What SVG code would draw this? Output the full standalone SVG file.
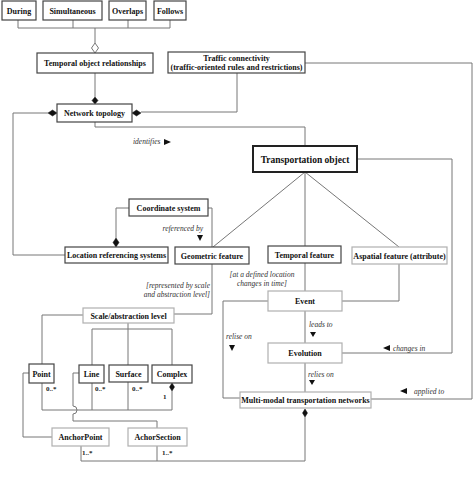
<svg xmlns="http://www.w3.org/2000/svg" width="474" height="477" viewBox="0 0 474 477">
<style>
.bx{fill:#fff;stroke:#444;stroke-width:1.2}
.lt{fill:#fff;stroke:#b0b0b0;stroke-width:1.2}
.tk{fill:#fff;stroke:#222;stroke-width:2}
.t{font-family:"Liberation Serif",serif;font-weight:bold;font-size:8px;fill:#111;text-anchor:middle}
.tb{font-family:"Liberation Serif",serif;font-weight:bold;font-size:9.5px;fill:#111;text-anchor:middle}
.i{font-family:"Liberation Serif",serif;font-style:italic;font-size:7.5px;fill:#333}
.m{font-family:"Liberation Serif",serif;font-weight:bold;font-size:7px;fill:#222}
.c{fill:none;stroke:#777;stroke-width:1}
.d{fill:#111;stroke:#111;stroke-width:0.5}
.h{fill:#fff;stroke:#777;stroke-width:1}
.a{fill:#111}
</style>
<rect width="474" height="477" fill="#fff"/>
<g id="connectors">
<path class="c" d="M18,20V28M73,20V28M128,20V28M170,20V28M18,28H170M95,28V43"/>
<path class="c" d="M95,73V97"/>
<path class="c" d="M48,113H13V255H65"/>
<path class="c" d="M141,112H237V73"/>
<path class="c" d="M305,63H472V399H371"/>
<path class="c" d="M95,122V127H305V146"/>
<path class="c" d="M357,159H452V353H342"/>
<path class="c" d="M129,208H116V238"/>
<path class="c" d="M208,208H212V247"/>
<path class="c" d="M212,264V314H174"/>
<path class="c" d="M305,172L213,247M305,172V246M305,172L399,247"/>
<path class="c" d="M305,263V291"/>
<path class="c" d="M399,264V301H342"/>
<path class="c" d="M268,301H223V398H240"/>
<path class="c" d="M305,311V343"/>
<path class="c" d="M305,363V392"/>
<path class="c" d="M305,417V461H81V446M157,461V446"/>
<path class="c" d="M83,315H42V364"/>
<path class="c" d="M128,323V329M92,329H172M92,329V365M128,329V365M172,329V365"/>
<path class="c" d="M42,383V410H172M92,383V410M128,382V410M172,391V410"/>
<path class="c" d="M29,373H23V437H52"/>
<path class="c" d="M79,373H73V406A4,4 0 0 1 73,414V421H157V428"/>
<path class="h" d="M95,43L98.5,48L95,53L91.5,48Z"/>
<path class="d" d="M95,97L98,100.5L95,104L92,100.5Z"/>
<path class="d" d="M48,113L52.5,110L57,113L52.5,116Z"/>
<path class="d" d="M132,113L136.5,110L141,113L136.5,116Z"/>
<path class="d" d="M116,238L119,242.5L116,247L113,242.5Z"/>
<path class="d" d="M172,383L174.5,387L172,391L169.5,387Z"/>
<path class="d" d="M305,409L307.5,413L305,417L302.5,413Z"/>
<path class="a" d="M164,139L171,142L164,145Z"/>
<path class="a" d="M197,235H203L200,241Z"/>
<path class="a" d="M229,345H235L232,351Z"/>
<path class="a" d="M310,332H316L313,337Z"/>
<path class="a" d="M309,380H315L312,385Z"/>
<path class="a" d="M390,345V351L383,348Z"/>
<path class="a" d="M407,388V394L400,391Z"/>
<text class="i" x="133" y="144">identifies</text>
<text class="i" x="203" y="231" text-anchor="end">referenced by</text>
<text class="i" x="210" y="288" text-anchor="end">[represented by scale</text>
<text class="i" x="210" y="297" text-anchor="end">and abstraction level]</text>
<text class="i" x="262" y="277" text-anchor="middle">[at a defined location</text>
<text class="i" x="262" y="286" text-anchor="middle">changes in time]</text>
<text class="i" x="226" y="339">relise on</text>
<text class="i" x="309" y="327">leads to</text>
<text class="i" x="308" y="377">relies on</text>
<text class="i" x="393" y="351">changes in</text>
<text class="i" x="414" y="394">applied to</text>
<text class="m" x="46" y="391">0..*</text>
<text class="m" x="95" y="391">0..*</text>
<text class="m" x="132" y="391">0..*</text>
<text class="m" x="163" y="399" font-size="5">1</text>
<text class="m" x="82" y="455">1..*</text>
<text class="m" x="162" y="455">1..*</text>
</g>
<g id="during"><rect class="bx" x="2" y="1" width="34" height="19"/><text class="t" x="19" y="13.5">During</text></g>
<g id="simultaneous"><rect class="bx" x="43" y="1" width="59" height="19"/><text class="t" x="72.5" y="13.5">Simultaneous</text></g>
<g id="overlaps"><rect class="bx" x="109" y="1" width="37" height="19"/><text class="t" x="127.5" y="13.5">Overlaps</text></g>
<g id="follows"><rect class="bx" x="154" y="1" width="32" height="19"/><text class="t" x="170" y="13.5">Follows</text></g>
<g id="temporal-relationships"><rect class="bx" x="37" y="53" width="116" height="20"/><text class="t" x="95" y="66">Temporal object relationships</text></g>
<g id="traffic"><rect class="bx" x="168" y="52" width="137" height="21"/><text class="t" x="236.5" y="60.5">Traffic connectivity</text><text class="t" x="236.5" y="70">(traffic-oriented rules and restrictions)</text></g>
<g id="network-topology"><rect class="bx" x="57" y="104" width="75" height="18"/><text class="t" x="94.5" y="116">Network topology</text></g>
<g id="transportation-object"><rect class="tk" x="253" y="146" width="104" height="26"/><text class="tb" x="305" y="162.5">Transportation object</text></g>
<g id="coordinate-system"><rect class="bx" x="129" y="199" width="79" height="17"/><text class="t" x="168.5" y="210.5">Coordinate system</text></g>
<g id="location-referencing"><rect class="bx" x="65" y="247" width="103" height="16"/><text class="t" x="116.5" y="258">Location referencing systems</text></g>
<g id="geometric-feature"><rect class="bx" x="175" y="247" width="74" height="17"/><text class="t" x="212" y="258.5">Geometric feature</text></g>
<g id="temporal-feature"><rect class="bx" x="268" y="246" width="73" height="17"/><text class="t" x="304.5" y="257.5">Temporal feature</text></g>
<g id="aspatial-feature"><rect class="lt" x="352" y="247" width="95" height="17"/><text class="t" x="399.5" y="258.5">Aspatial feature (attribute)</text></g>
<g id="event"><rect class="lt" x="268" y="291" width="74" height="20"/><text class="t" x="305" y="304">Event</text></g>
<g id="evolution"><rect class="lt" x="268" y="343" width="74" height="20"/><text class="t" x="305" y="356">Evolution</text></g>
<g id="multi-modal"><rect class="lt" x="240" y="392" width="131" height="16"/><text class="t" x="305.5" y="403">Multi-modal transportation networks</text></g>
<g id="scale-level"><rect class="lt" x="83" y="308" width="91" height="15"/><text class="t" x="128.5" y="318.5">Scale/abstraction level</text></g>
<g id="point"><rect class="bx" x="29" y="364" width="25" height="19"/><text class="t" x="41.5" y="376.5">Point</text></g>
<g id="line"><rect class="bx" x="79" y="365" width="25" height="18"/><text class="t" x="91.5" y="377">Line</text></g>
<g id="surface"><rect class="bx" x="109" y="365" width="39" height="17"/><text class="t" x="128.5" y="376.5">Surface</text></g>
<g id="complex"><rect class="bx" x="152" y="365" width="40" height="18"/><text class="t" x="172" y="377">Complex</text></g>
<g id="anchorpoint"><rect class="lt" x="52" y="428" width="57" height="18"/><text class="t" x="80.5" y="440">AnchorPoint</text></g>
<g id="achorsection"><rect class="lt" x="128" y="428" width="59" height="18"/><text class="t" x="157.5" y="440">AchorSection</text></g>
</svg>
